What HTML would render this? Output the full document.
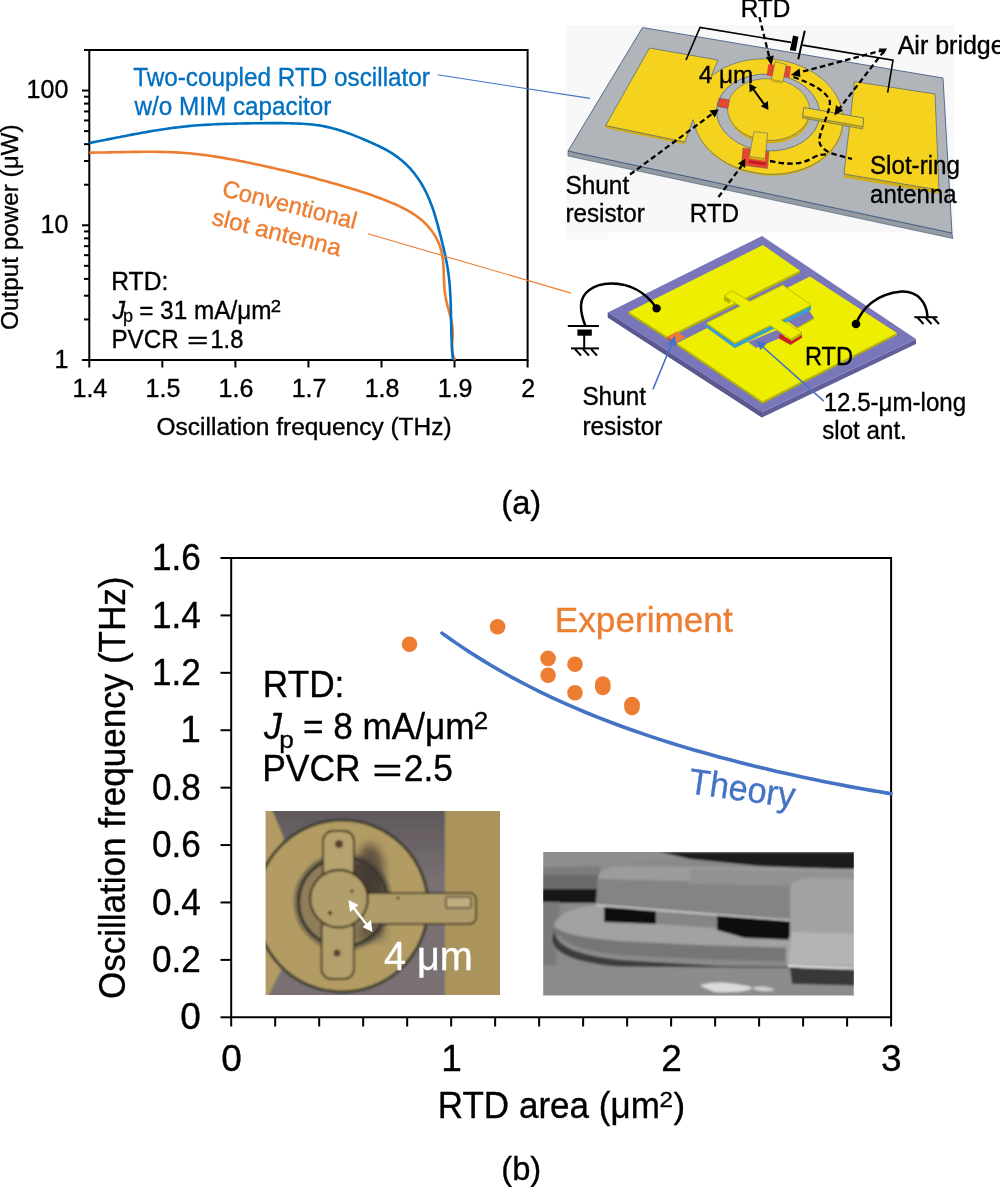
<!DOCTYPE html>
<html><head><meta charset="utf-8"><style>
html,body{margin:0;padding:0;background:#fff;overflow:hidden;}
svg{display:block;}
</style></head><body>
<svg width="1000" height="1187" viewBox="0 0 1000 1187">
<rect width="1000" height="1187" fill="#fff"/>
<rect x="566" y="25" width="388.5" height="207.5" fill="#F8F8F9"/>
<rect x="566" y="232" width="41.5" height="7.5" fill="#F8F8F9"/>
<polygon points="568,151 952,233 953,238.5 568,156" fill="#979BA1" stroke="#34527E" stroke-width="0.6"/>
<polygon points="642.5,27.5 943,78 952,233 568,151" fill="#B1B5B9" stroke="#34527E" stroke-width="0.8"/>
<polygon points="605.6,125.6 685,142 685,144.5 605.6,128" fill="#D2AE12"/>
<polygon points="844,174 939,190 939,193.5 844,177.5" fill="#D2AE12"/>
<polygon points="854.5,81.6 935,94 939,190 844,174" fill="#F5D21E" stroke="#34527E" stroke-width="0.6"/>
<ellipse cx="768.4" cy="118" rx="75.2" ry="57.5" transform="rotate(5.8 768.4 118)" fill="#D2AE12"/>
<ellipse cx="768" cy="116.5" rx="75.2" ry="57.5" transform="rotate(5.8 768 116.5)" fill="#F5D21E" stroke="#34527E" stroke-width="0.5"/>
<polygon points="649.5,48 718,60 711.2,76.2 740,100 700,116 693,119.7 685,142 605.6,125.6" fill="#F5D21E"/>
<polyline points="711.2,76.2 718,60 649.5,48 605.6,125.6 685,142 693,119.7" fill="none" stroke="#34527E" stroke-width="0.6"/>
<ellipse cx="768.1" cy="112.5" rx="51.7" ry="38.4" transform="rotate(3.6 768.1 112.5)" fill="#B1B5B9" stroke="#34527E" stroke-width="0.6"/>
<ellipse cx="769.3" cy="112.3" rx="41.2" ry="30.9" transform="rotate(3.6 769.3 112.3)" fill="#D2AE12"/>
<ellipse cx="768.6" cy="109.5" rx="41.2" ry="30.9" transform="rotate(3.6 768.6 109.5)" fill="#F5D21E" stroke="#34527E" stroke-width="0.5"/>
<polygon points="719.5,98 729.5,100 728,108.5 717.5,106.5" fill="#E8462E" stroke="#34527E" stroke-width="0.4"/>
<polygon points="768.5,64 775,65 773,76.5 766.5,75.5" fill="#E8462E"/>
<polygon points="785,65.4 791,66.6 789.5,78 783.5,77" fill="#E8462E"/>
<polygon points="775.2,61.5 786.3,64.7 783,81.6 771.3,79.7" fill="#F5D21E" stroke="#34527E" stroke-width="0.5"/>
<polygon points="771.3,79.7 783,81.6 782.6,83.6 771,81.8" fill="#D2AE12"/>
<polygon points="803.8,107.6 863.6,118 862.6,129 802.5,118" fill="#D2AE12" stroke="#34527E" stroke-width="0.5"/>
<polygon points="803.8,107.6 863.6,118 863,126.5 802.8,116" fill="#F5D21E" stroke="#34527E" stroke-width="0.5"/>
<polygon points="743,148 769,151.5 767.5,168.5 741.5,165" fill="#E8462E" stroke="#34527E" stroke-width="0.4"/>
<polygon points="749,160 766,162.5 765.5,165.5 748.5,163" fill="#C01E24"/>
<polygon points="754,131.6 767.6,133.2 765.2,158.8 749.2,156.4" fill="#F5D21E" stroke="#34527E" stroke-width="0.5"/>
<polygon points="749.2,156.4 765.2,158.8 765,161 749,158.6" fill="#D2AE12"/>
<polyline points="686,60 700,27.5 791,42.4" fill="none" stroke="#000" stroke-width="1.6"/>
<polyline points="802.4,45.1 893,60.2 887.7,92.7" fill="none" stroke="#000" stroke-width="1.6"/>
<polygon points="793.1,35.5 798.5,36.7 795.8,51.1 789.8,50.2" fill="#000"/>
<line x1="804.8" y1="30.7" x2="798.2" y2="59.2" stroke="#000" stroke-width="2"/>
<path d="M759.4,17 L769.5,58" fill="none" stroke="#000" stroke-width="2.3" stroke-dasharray="5.5,3.2"/>
<polygon points="766,57 773.8,55.5 771.5,65.5" fill="#000"/>
<path d="M884,50 L798,72.8" fill="none" stroke="#000" stroke-width="2.3" stroke-dasharray="5.5,3.2"/>
<polygon points="799.5,68.5 800.5,77 790.8,75.1" fill="#000"/>
<path d="M884,51 L839.5,108.5" fill="none" stroke="#000" stroke-width="2.3" stroke-dasharray="5.5,3.2"/>
<polygon points="836,105 843,110.5 834.4,115.4" fill="#000"/>
<polygon points="887,48.5 878.5,48.6 883.5,54.5" fill="#000"/>
<path d="M630,174.5 L712,114" fill="none" stroke="#000" stroke-width="2.3" stroke-dasharray="5.5,3.2"/>
<polygon points="709.5,110.5 714.8,117.5 718.8,109.2" fill="#000"/>
<path d="M718.5,197 L741.5,166" fill="none" stroke="#000" stroke-width="2.3" stroke-dasharray="5.5,3.2"/>
<polygon points="738,163.5 745.2,168 745.2,158.8" fill="#000"/>
<path d="M793.4,77 C813,84 827,92 829.8,101 C831,110 822,125 819.4,138.8 C818,146 826,152 835,154.4 L852,159" fill="none" stroke="#000" stroke-width="2.3" stroke-dasharray="5.5,3.2"/>
<path d="M770,161 C785,164 800,166 813,157.7 C818,155 822,154.5 826,154.4" fill="none" stroke="#000" stroke-width="2.3" stroke-dasharray="5.5,3.2"/>
<line x1="752" y1="87.5" x2="765.5" y2="106" stroke="#000" stroke-width="2"/>
<polygon points="749.2,83.6 749.7,92.5 756.8,87.4" fill="#000"/>
<polygon points="768.4,110 767.9,101.1 760.8,106.2" fill="#000"/>
<polygon points="607.8,312.4 762,412 916,339 916,344 762,417.5 607.8,317.5" fill="#62609A"/>
<polygon points="762,412 762,417.5 607.8,317.5 607.8,312.4" fill="#5A588E"/>
<polygon points="607.8,312.4 762,236 916,339 762,412" fill="#7977BA"/>
<polygon points="628.6,312 667.2,336.8 800,270.7 800,273 667.2,339 628.6,314.3" fill="#B5B500"/>
<polygon points="628.6,312 763,245 800,270.7 667.2,336.8" fill="#EEEE00"/>
<polygon points="676.8,343.2 762.5,401.5 897,333 897,335.3 762.5,403.8 676.8,345.5" fill="#B5B500"/>
<polygon points="676.8,343.2 810,276.6 897,333 762.5,401.5" fill="#EEEE00"/>
<polygon points="667.2,336.8 676.8,342.4 676.8,345 667.2,339.3" fill="#C85A20"/>
<polygon points="667.2,336.8 676.8,331.6 685.2,337.2 676.8,342.4" fill="#EE7A3A"/>
<polygon points="748,342 777,330 785,336 756,348" fill="#7977BA"/>
<polygon points="786,320 808,309 814,318 797,328" fill="#7977BA"/>
<polyline points="797,328 814,318.5" fill="none" stroke="#B5B500" stroke-width="1.2"/>
<polygon points="779,333.6 791,340 802,333 802,337.8 790.5,345 779,338.5" fill="#CC1F1F"/>
<polygon points="706.6,322.8 734.8,342.5 811,304.8 811,310 734.8,348.3 706.6,327.8" fill="#3A9FD0"/>
<polygon points="706.6,322.8 734.8,342.5 811,304.8 811,306.3 734.8,344.2 706.6,324.3" fill="#B5B500"/>
<polygon points="706.6,322.8 782.8,285 811,304.8 734.8,342.5" fill="#EEEE00"/>
<polygon points="724,295.8 724,300.5 730,304 730,299.3" fill="#B5B500"/>
<polygon points="791,339 802,332.4 802,335 791,341.5" fill="#B5B500"/>
<polygon points="724,295.8 732.4,291 802,332.4 791,339" fill="#EEEE00"/>
<polyline points="740.1,306.2 724,295.8 732.4,291 749.8,301.4" fill="none" stroke="#B5B500" stroke-width="0.9"/>
<polyline points="706.6,322.8 740.1,306.2" fill="none" stroke="#B5B500" stroke-width="0.8"/>
<polyline points="780.7,319.8 802,332.4 791,339 769.7,325.2" fill="none" stroke="#B5B500" stroke-width="0.8"/>
<polyline points="749.8,301.4 782.8,285 811,304.8" fill="none" stroke="#B5B500" stroke-width="0.8"/>
<path d="M656.6,308.4 C645,291 628,283.5 611,283.6 C594,284 581,292 581,306 C581,315 583,320 585.4,326" fill="none" stroke="#000" stroke-width="2.5"/>
<circle cx="656.6" cy="308.4" r="4.2" fill="#000"/>
<line x1="567.8" y1="326" x2="599" y2="326" stroke="#000" stroke-width="2"/>
<rect x="577.4" y="329.5" width="14.4" height="6.2" fill="#000"/>
<line x1="584.2" y1="335" x2="584.2" y2="348.4" stroke="#000" stroke-width="2"/>
<line x1="571" y1="348.4" x2="599" y2="348.4" stroke="#000" stroke-width="2"/>
<line x1="575" y1="349" x2="581" y2="355.6" stroke="#000" stroke-width="2"/>
<line x1="583" y1="349" x2="589" y2="355.6" stroke="#000" stroke-width="2"/>
<line x1="591" y1="349" x2="597" y2="355.6" stroke="#000" stroke-width="2"/>
<path d="M856,324 C862,308 876,294 901.6,291.6 C918,291 927,303 927.5,317" fill="none" stroke="#000" stroke-width="2.5"/>
<circle cx="856" cy="324" r="4.3" fill="#000"/>
<line x1="914.3" y1="317.2" x2="937.4" y2="317.2" stroke="#000" stroke-width="2"/>
<line x1="917.5" y1="317.5" x2="923.5" y2="324" stroke="#000" stroke-width="2"/>
<line x1="925.5" y1="317.5" x2="931.5" y2="324" stroke="#000" stroke-width="2"/>
<line x1="933" y1="317.5" x2="939" y2="324" stroke="#000" stroke-width="2"/>
<line x1="652.9" y1="389.5" x2="672" y2="343" stroke="#4472C4" stroke-width="1.6"/>
<polygon points="675,335.6 667.5,344 676.5,346.5" fill="#4472C4"/>
<line x1="823.8" y1="401.2" x2="762" y2="346" stroke="#4472C4" stroke-width="1.6"/>
<polygon points="756,340.5 760.5,350 767,343.5" fill="#4472C4"/>
<g stroke="#000" stroke-width="2" fill="none">
<path d="M89.3,50.01 H527.6 V360 H89.3 Z"/>
<line x1="82" y1="360.00" x2="89.3" y2="360.00"/>
<line x1="84" y1="319.45" x2="89.3" y2="319.45"/>
<line x1="84" y1="295.72" x2="89.3" y2="295.72"/>
<line x1="84" y1="278.89" x2="89.3" y2="278.89"/>
<line x1="84" y1="265.83" x2="89.3" y2="265.83"/>
<line x1="84" y1="255.17" x2="89.3" y2="255.17"/>
<line x1="84" y1="246.15" x2="89.3" y2="246.15"/>
<line x1="84" y1="238.34" x2="89.3" y2="238.34"/>
<line x1="84" y1="231.44" x2="89.3" y2="231.44"/>
<line x1="82" y1="225.28" x2="89.3" y2="225.28"/>
<line x1="84" y1="184.73" x2="89.3" y2="184.73"/>
<line x1="84" y1="161.00" x2="89.3" y2="161.00"/>
<line x1="84" y1="144.17" x2="89.3" y2="144.17"/>
<line x1="84" y1="131.11" x2="89.3" y2="131.11"/>
<line x1="84" y1="120.45" x2="89.3" y2="120.45"/>
<line x1="84" y1="111.43" x2="89.3" y2="111.43"/>
<line x1="84" y1="103.62" x2="89.3" y2="103.62"/>
<line x1="84" y1="96.72" x2="89.3" y2="96.72"/>
<line x1="82" y1="90.56" x2="89.3" y2="90.56"/>
<line x1="84" y1="50.01" x2="89.3" y2="50.01"/>
<line x1="84" y1="50.01" x2="89.3" y2="50.01"/>
<line x1="89.30" y1="360" x2="89.30" y2="367.5"/>
<line x1="162.35" y1="360" x2="162.35" y2="367.5"/>
<line x1="235.40" y1="360" x2="235.40" y2="367.5"/>
<line x1="308.45" y1="360" x2="308.45" y2="367.5"/>
<line x1="381.50" y1="360" x2="381.50" y2="367.5"/>
<line x1="454.55" y1="360" x2="454.55" y2="367.5"/>
<line x1="527.60" y1="360" x2="527.60" y2="367.5"/>
</g>
<path d="M89.30,152.61 L92.39,152.59 L95.47,152.57 L98.56,152.54 L101.64,152.49 L104.73,152.44 L107.82,152.39 L110.91,152.33 L114.00,152.27 L117.09,152.21 L120.18,152.14 L123.27,152.08 L126.36,152.02 L129.46,151.97 L132.55,151.91 L135.64,151.87 L138.73,151.83 L141.82,151.80 L144.91,151.78 L148.01,151.77 L151.10,151.78 L154.19,151.80 L157.27,151.83 L160.36,151.88 L163.45,151.94 L166.53,152.03 L169.62,152.14 L172.70,152.26 L175.78,152.41 L178.86,152.59 L181.94,152.79 L185.01,153.01 L188.09,153.26 L191.16,153.54 L194.23,153.85 L197.30,154.18 L200.36,154.53 L203.43,154.91 L206.49,155.31 L209.55,155.74 L212.60,156.18 L215.66,156.64 L218.71,157.12 L221.76,157.62 L224.81,158.14 L227.86,158.67 L230.90,159.22 L233.94,159.78 L236.98,160.36 L240.02,160.95 L243.05,161.55 L246.08,162.16 L249.11,162.78 L252.14,163.41 L255.17,164.05 L258.19,164.70 L261.21,165.35 L264.23,166.01 L267.24,166.68 L270.25,167.36 L273.27,168.04 L276.27,168.73 L279.28,169.42 L282.29,170.13 L285.29,170.84 L288.29,171.55 L291.29,172.28 L294.28,173.01 L297.28,173.75 L300.27,174.50 L303.26,175.25 L306.25,176.01 L309.24,176.78 L312.23,177.56 L315.21,178.35 L318.19,179.14 L321.17,179.94 L324.15,180.75 L327.13,181.57 L330.11,182.39 L333.08,183.22 L336.06,184.06 L339.03,184.91 L342.00,185.77 L344.97,186.64 L347.94,187.52 L350.90,188.41 L353.86,189.32 L356.81,190.24 L359.76,191.18 L362.70,192.13 L365.64,193.10 L368.57,194.09 L371.49,195.10 L374.40,196.13 L377.31,197.19 L380.21,198.27 L383.09,199.37 L385.97,200.50 L388.84,201.65 L391.69,202.84 L394.53,204.05 L397.36,205.31 L400.15,206.61 L402.91,207.97 L405.64,209.38 L408.32,210.86 L410.96,212.42 L413.55,214.05 L416.07,215.78 L418.53,217.59 L420.93,219.51 L423.24,221.54 L425.48,223.68 L427.63,225.94 L429.68,228.31 L431.62,230.78 L433.44,233.35 L435.13,236.00 L436.66,238.73 L438.04,241.52 L439.25,244.37 L440.27,247.26 L441.12,250.19 L441.81,253.16 L442.36,256.15 L442.79,259.18 L443.12,262.23 L443.37,265.30 L443.55,268.38 L443.69,271.47 L443.80,274.57 L443.90,277.68 L444.01,280.78 L444.15,283.88 L444.34,286.96 L444.60,290.04 L444.94,293.09 L445.38,296.13 L445.94,299.13 L446.61,302.12 L447.35,305.09 L448.14,308.05 L448.95,311.01 L449.75,313.98 L450.52,316.96 L451.22,319.95 L451.82,322.98 L452.30,326.03 L452.63,329.12 L452.77,332.26 L452.72,335.45 L452.52,338.68 L452.27,341.91 L452.07,345.13 L452.02,348.30 L452.22,351.40 L452.76,354.40 L453.74,357.28 L455.27,360.01" stroke="#ED7D31" stroke-width="2.6" fill="none" stroke-linejoin="round"/>
<path d="M89.30,142.98 L92.59,142.35 L95.88,141.71 L99.16,141.07 L102.45,140.43 L105.74,139.78 L109.03,139.13 L112.32,138.48 L115.62,137.83 L118.91,137.19 L122.21,136.54 L125.50,135.91 L128.80,135.27 L132.10,134.64 L135.40,134.03 L138.71,133.42 L142.01,132.82 L145.32,132.23 L148.63,131.65 L151.94,131.09 L155.25,130.54 L158.56,130.01 L161.88,129.50 L165.20,129.00 L168.52,128.52 L171.84,128.07 L175.16,127.63 L178.49,127.22 L181.82,126.84 L185.15,126.48 L188.49,126.14 L191.83,125.83 L195.17,125.55 L198.51,125.29 L201.85,125.05 L205.20,124.83 L208.54,124.63 L211.89,124.45 L215.24,124.28 L218.60,124.13 L221.95,124.00 L225.30,123.88 L228.66,123.78 L232.01,123.68 L235.37,123.60 L238.73,123.53 L242.08,123.46 L245.44,123.40 L248.80,123.35 L252.15,123.30 L255.51,123.26 L258.87,123.22 L262.22,123.18 L265.58,123.15 L268.93,123.12 L272.29,123.11 L275.64,123.11 L279.00,123.12 L282.35,123.14 L285.70,123.19 L289.05,123.25 L292.41,123.34 L295.76,123.45 L299.11,123.59 L302.46,123.76 L305.81,123.96 L309.15,124.22 L312.48,124.53 L315.81,124.93 L319.12,125.40 L322.41,125.97 L325.70,126.63 L328.96,127.36 L332.22,128.18 L335.45,129.06 L338.68,130.02 L341.89,131.03 L345.08,132.11 L348.26,133.23 L351.42,134.40 L354.57,135.62 L357.70,136.87 L360.81,138.15 L363.91,139.46 L367.00,140.79 L370.07,142.13 L373.12,143.49 L376.16,144.87 L379.17,146.28 L382.16,147.73 L385.11,149.26 L388.03,150.87 L390.90,152.59 L393.73,154.41 L396.49,156.35 L399.20,158.39 L401.83,160.53 L404.38,162.76 L406.85,165.09 L409.22,167.49 L411.48,169.98 L413.64,172.55 L415.70,175.19 L417.66,177.89 L419.51,180.66 L421.28,183.49 L422.96,186.37 L424.55,189.30 L426.05,192.28 L427.48,195.31 L428.83,198.37 L430.11,201.47 L431.31,204.59 L432.46,207.75 L433.54,210.92 L434.57,214.12 L435.56,217.34 L436.50,220.57 L437.41,223.82 L438.29,227.07 L439.14,230.33 L439.98,233.59 L440.80,236.86 L441.62,240.12 L442.43,243.38 L443.22,246.64 L443.98,249.90 L444.73,253.16 L445.44,256.43 L446.11,259.70 L446.75,262.98 L447.33,266.26 L447.87,269.56 L448.35,272.86 L448.77,276.18 L449.15,279.50 L449.48,282.83 L449.76,286.17 L450.01,289.51 L450.22,292.86 L450.40,296.22 L450.55,299.58 L450.68,302.95 L450.79,306.31 L450.88,309.68 L450.96,313.05 L451.03,316.43 L451.10,319.80 L451.17,323.17 L451.24,326.54 L451.31,329.91 L451.40,333.27 L451.50,336.63 L451.63,339.99 L451.77,343.34 L451.94,346.68 L452.14,350.02 L452.37,353.35 L452.64,356.67 L452.95,359.99" stroke="#0070C0" stroke-width="2.6" fill="none" stroke-linejoin="round"/>
<line x1="437.6" y1="74.8" x2="590" y2="98.4" stroke="#4472C4" stroke-width="1.1"/>
<line x1="368" y1="233.8" x2="571" y2="293.1" stroke="#ED7D31" stroke-width="1.1"/>
<g font-family="Liberation Sans, Arial, Helvetica, sans-serif">
<text x="68.3" y="98.3" font-size="25" fill="#000" text-anchor="end"  stroke="#000" stroke-width="0.35">100</text>
<text x="68.3" y="233.0" font-size="25" fill="#000" text-anchor="end"  stroke="#000" stroke-width="0.35">10</text>
<text x="68.3" y="367.8" font-size="25" fill="#000" text-anchor="end"  stroke="#000" stroke-width="0.35">1</text>
<text x="89.9" y="396.6" font-size="25" fill="#000" text-anchor="middle"  stroke="#000" stroke-width="0.35">1.4</text>
<text x="162.95" y="396.6" font-size="25" fill="#000" text-anchor="middle"  stroke="#000" stroke-width="0.35">1.5</text>
<text x="236.0" y="396.6" font-size="25" fill="#000" text-anchor="middle"  stroke="#000" stroke-width="0.35">1.6</text>
<text x="309.05" y="396.6" font-size="25" fill="#000" text-anchor="middle"  stroke="#000" stroke-width="0.35">1.7</text>
<text x="382.1" y="396.6" font-size="25" fill="#000" text-anchor="middle"  stroke="#000" stroke-width="0.35">1.8</text>
<text x="455.15" y="396.6" font-size="25" fill="#000" text-anchor="middle"  stroke="#000" stroke-width="0.35">1.9</text>
<text x="528.2" y="396.6" font-size="25" fill="#000" text-anchor="middle"  stroke="#000" stroke-width="0.35">2</text>
<text x="156.60" y="435.00" font-size="24.80" fill="#000" textLength="294.97" lengthAdjust="spacingAndGlyphs"  stroke="#000" stroke-width="0.35">Oscillation frequency (THz)</text>
<text transform="translate(17.9,329.89) rotate(-90)" x="0" y="0" font-size="24.8" textLength="205.51" lengthAdjust="spacingAndGlyphs" stroke="#000" stroke-width="0.35">Output power (μW)</text>
<text x="133.19" y="85.50" font-size="26.00" fill="#0070C0" textLength="296.76" lengthAdjust="spacingAndGlyphs"  stroke="#0070C0" stroke-width="0.35">Two-coupled RTD oscillator</text>
<text x="134.40" y="114.60" font-size="26.00" fill="#0070C0" textLength="197.04" lengthAdjust="spacingAndGlyphs"  stroke="#0070C0" stroke-width="0.35">w/o MIM capacitor</text>
<g transform="translate(221.0,195.8) rotate(14)"><text x="0" y="0" font-size="23.8" fill="#ED7D31" textLength="137.8" lengthAdjust="spacingAndGlyphs" stroke="#ED7D31" stroke-width="0.35">Conventional</text><text x="-3" y="30" font-size="23.8" fill="#ED7D31" textLength="132.1" lengthAdjust="spacingAndGlyphs" stroke="#ED7D31" stroke-width="0.35">slot antenna</text></g>
<text x="111.28" y="289.70" font-size="25.20" fill="#000" textLength="57.04" lengthAdjust="spacingAndGlyphs"  stroke="#000" stroke-width="0.35">RTD:</text>
<text x="112.5" y="318.9" font-size="25.2" font-style="italic" stroke="#000" stroke-width="0.35">J</text>
<text x="123.03" y="322.30" font-size="18.50" fill="#000" textLength="10.01" lengthAdjust="spacingAndGlyphs"  stroke="#000" stroke-width="0.35">p</text>
<text x="139.18" y="318.80" font-size="25.20" fill="#000" textLength="132.22" lengthAdjust="spacingAndGlyphs"  stroke="#000" stroke-width="0.35">= 31 mA/μm</text>
<text x="270.73" y="311.80" font-size="17.00" fill="#000" textLength="10.27" lengthAdjust="spacingAndGlyphs"  stroke="#000" stroke-width="0.35">2</text>
<text x="111.46" y="348.20" font-size="25.00" fill="#000" textLength="67.31" lengthAdjust="spacingAndGlyphs"  stroke="#000" stroke-width="0.35">PVCR</text>
<text x="185.45" y="349.80" font-size="24.50" fill="#000" textLength="24.45" lengthAdjust="spacingAndGlyphs" font-family="Liberation Sans, Noto Sans CJK JP, sans-serif"  stroke="#000" stroke-width="0.35">＝</text>
<text x="210.42" y="348.10" font-size="25.00" fill="#000" textLength="32.95" lengthAdjust="spacingAndGlyphs"  stroke="#000" stroke-width="0.35">1.8</text>
<text x="740.65" y="17.10" font-size="25.00" fill="#000" textLength="49.59" lengthAdjust="spacingAndGlyphs"  stroke="#000" stroke-width="0.35">RTD</text>
<text x="897.7" y="53.5" font-size="25" stroke="#000" stroke-width="0.35">Air bridge</text>
<text x="698.64" y="82.80" font-size="24.40" fill="#000" textLength="54.52" lengthAdjust="spacingAndGlyphs"  stroke="#000" stroke-width="0.35">4 μm</text>
<text x="565.40" y="193.80" font-size="25.00" fill="#000" textLength="63.80" lengthAdjust="spacingAndGlyphs"  stroke="#000" stroke-width="0.35">Shunt</text>
<text x="565.42" y="222.30" font-size="25.00" fill="#000" textLength="79.52" lengthAdjust="spacingAndGlyphs"  stroke="#000" stroke-width="0.35">resistor</text>
<text x="689.66" y="222.00" font-size="25.00" fill="#000" textLength="49.49" lengthAdjust="spacingAndGlyphs"  stroke="#000" stroke-width="0.35">RTD</text>
<text x="869.91" y="174.00" font-size="25.00" fill="#000" textLength="90.13" lengthAdjust="spacingAndGlyphs"  stroke="#000" stroke-width="0.35">Slot-ring</text>
<text x="870.12" y="202.80" font-size="25.00" fill="#000" textLength="86.37" lengthAdjust="spacingAndGlyphs"  stroke="#000" stroke-width="0.35">antenna</text>
<text x="804.91" y="365.20" font-size="25.00" fill="#000" textLength="48.10" lengthAdjust="spacingAndGlyphs"  stroke="#000" stroke-width="0.35">RTD</text>
<text x="582.41" y="405.40" font-size="25.00" fill="#000" textLength="63.55" lengthAdjust="spacingAndGlyphs"  stroke="#000" stroke-width="0.35">Shunt</text>
<text x="582.42" y="434.70" font-size="25.00" fill="#000" textLength="79.93" lengthAdjust="spacingAndGlyphs"  stroke="#000" stroke-width="0.35">resistor</text>
<text x="823.69" y="410.60" font-size="25.00" fill="#000" textLength="142.40" lengthAdjust="spacingAndGlyphs"  stroke="#000" stroke-width="0.35">12.5-μm-long</text>
<text x="822.28" y="439.40" font-size="25.00" fill="#000" textLength="84.54" lengthAdjust="spacingAndGlyphs"  stroke="#000" stroke-width="0.35">slot ant.</text>
<text x="501.24" y="513.70" font-size="34.00" fill="#000" textLength="40.00" lengthAdjust="spacingAndGlyphs"  stroke="#000" stroke-width="0.35">(a)</text>
</g>
<defs>
<clipPath id="cp1"><rect x="265.6" y="811" width="234.4" height="184"/></clipPath>
<clipPath id="cp2"><rect x="543.2" y="852" width="310.6" height="143.5"/></clipPath>
<filter id="bl1" x="-5%" y="-5%" width="110%" height="110%"><feGaussianBlur stdDeviation="1.3"/></filter>
<filter id="bl2" x="-5%" y="-5%" width="110%" height="110%"><feGaussianBlur stdDeviation="0.9"/></filter>
<filter id="bl3" x="-20%" y="-20%" width="140%" height="140%"><feGaussianBlur stdDeviation="4"/></filter>
<radialGradient id="g1disc" cx="0.45" cy="0.45" r="0.6"><stop offset="0" stop-color="#B49E68"/><stop offset="1" stop-color="#A89360"/></radialGradient>
<linearGradient id="g1gray" x1="0" y1="0" x2="1" y2="0"><stop offset="0" stop-color="#847B7E"/><stop offset="1" stop-color="#7C7378"/></linearGradient>
<pattern id="stri" x="0" y="0" width="3" height="40" patternUnits="userSpaceOnUse"><rect width="3" height="40" fill="none"/><rect x="0" width="1" height="40" fill="#000" opacity="0.12"/><rect x="2" width="0.6" height="40" fill="#fff" opacity="0.10"/></pattern>
</defs>
<g clip-path="url(#cp1)"><g filter="url(#bl1)">
<linearGradient id="gpg" x1="0" y1="811" x2="0" y2="880" gradientUnits="userSpaceOnUse"><stop offset="0" stop-color="#5E585C"/><stop offset="1" stop-color="#787073"/></linearGradient>
<rect x="255" y="800" width="255" height="205" fill="url(#gpg)"/>
<polygon points="255,800 268,800 283.3,836.8 283.3,965.8 266,1000 255,1000" fill="#B29C64"/>
<rect x="445" y="800" width="70" height="205" fill="#AA945C"/>
<circle cx="342" cy="906" r="86" fill="#B29C64" stroke="#3C3C2E" stroke-width="3"/>
<circle cx="343" cy="902" r="47" fill="none" stroke="#6E6450" stroke-width="5" opacity="0.7"/>
<circle cx="343" cy="902" r="44.5" fill="#8E7D58" stroke="#30362A" stroke-width="3"/>
<path d="M356,862 A40,40 0 0 1 385,905 L368,905 A28,28 0 0 0 350,875 Z" fill="#4A3F34" opacity="0.8"/>
<ellipse cx="370" cy="872" rx="14" ry="28" fill="#3E3630" opacity="0.7" filter="url(#bl3)"/>
<ellipse cx="372" cy="932" rx="14" ry="10" fill="#3E3630" opacity="0.5" filter="url(#bl3)"/>
<rect x="323" y="831" width="31" height="65" rx="10" fill="#B6A26E" stroke="#3C3424" stroke-width="1.8"/>
<rect x="321.5" y="918" width="32.5" height="61" rx="10" fill="#B4A06C" stroke="#3C3424" stroke-width="1.8"/>
<circle cx="339" cy="844" r="4" fill="#5A4030"/><circle cx="337" cy="953" r="3.5" fill="#5A4030"/>
<rect x="362" y="893.2" width="114" height="30.6" rx="6" fill="#B09C6A" stroke="#3C3424" stroke-width="1.8"/>
<rect x="446" y="896.9" width="25" height="11" rx="2" fill="#C0AE80" stroke="#3C3424" stroke-width="1.3"/>
<circle cx="339" cy="898.8" r="28.8" fill="#B29E6A" stroke="#2A2418" stroke-width="1.8"/>
<circle cx="330" cy="913" r="2" fill="#3A2A20"/><circle cx="352" cy="891" r="1.6" fill="#3A2A20"/><circle cx="398" cy="898" r="1.5" fill="#3A2A20"/>
</g></g>
<line x1="353" y1="907" x2="367" y2="925" stroke="#fff" stroke-width="2.5"/>
<polygon points="348.5,900 350,912 358.5,905" fill="#fff"/>
<polygon points="372.5,932 371,920 362.5,927" fill="#fff"/>
<g clip-path="url(#cp2)"><g filter="url(#bl2)">
<rect x="535" y="845" width="330" height="160" fill="#8A8A8A"/>
<polygon points="535,845 865,845 865,860 690,857 600,866 535,868" fill="#8E8E8E"/>
<polygon points="660,852 865,852 865,870 760,866 690,859" fill="#1C1C1C"/>
<polygon points="535,868 600,866 600,876 535,876" fill="#7C7C7C"/>
<polygon points="535,875 600,875 598,890 535,890" fill="#6A6A6A"/>
<polygon points="535,889 600,889 598,903 535,903" fill="#141414"/>
<polygon points="535,902 560,902 556,965 535,965" fill="#7A7A7A"/>
<path d="M554,930 C556,948 580,955 620,960 L720,966 L800,967 L800,975 L720,972 L620,967 C575,962 556,955 552,940 Z" fill="#3E3E3E"/>
<path d="M554,926 C556,940 575,950 620,955 L700,959 L800,962 L800,948 L700,945 L620,941 C585,938 562,934 554,926 Z" fill="#787878"/>
<path d="M554,926 C556,940 575,950 620,955 L700,959 L800,962 L800,948 L700,945 L620,941 C585,938 562,934 554,926 Z" fill="url(#stri)"/>
<path d="M554,926 C556,913 578,906 600,905 L700,912 L800,920 L800,948 L700,945 L620,941 C585,938 562,934 554,926 Z" fill="#A2A2A2"/>
<polygon points="604,907 656,910 656,924 604,922" fill="#111111"/>
<polygon points="656,912 717,915 717,928 656,924" fill="#858585"/>
<polygon points="717,914 796,920 796,940 745,938 717,930" fill="#0E0E0E"/>
<path d="M598,880 C598,870 606,866 625,866 L865,869 L865,884 L640,880 Z" fill="#9C9C9C"/>
<polygon points="597,879 640,880 796,888 796,921 640,910 596,905" fill="#868686"/>
<polygon points="597,879 640,880 796,888 796,921 640,910 596,905" fill="url(#stri)"/>
<line x1="596" y1="905" x2="796" y2="921" stroke="#D4D4D4" stroke-width="1.5"/>
<polygon points="690,869 865,872 865,886 690,884" fill="#929292"/>
<path d="M790,888 C792,880 800,878 815,878 L865,879 L865,968 L788,966 C784,960 786,945 790,935 Z" fill="#A2A2A2"/>
<polygon points="792,932 865,934 865,966 788,964" fill="#B4B4B4"/>
<line x1="788" y1="966" x2="865" y2="969" stroke="#E8E8E8" stroke-width="1.8"/>
<polygon points="788,968 865,970 865,986 792,984" fill="#383838"/>
<polygon points="535,966 790,968 792,984 865,986 865,1000 535,1000" fill="#8C8C8C"/>
<path d="M700,986 C712,980 730,983 748,986 C760,990 738,993 715,992 Z" fill="#DADADA"/>
<path d="M752,988 C760,985 770,987 775,990 C768,992 758,992 752,988 Z" fill="#CFCFCF"/>
</g></g>
<g stroke="#000" stroke-width="2" fill="none">
<path d="M231.2,558 H891.1 V1017.3 H231.2 Z"/>
<line x1="220.5" y1="1017.30" x2="231.2" y2="1017.30"/>
<line x1="220.5" y1="959.89" x2="231.2" y2="959.89"/>
<line x1="220.5" y1="902.47" x2="231.2" y2="902.47"/>
<line x1="220.5" y1="845.06" x2="231.2" y2="845.06"/>
<line x1="220.5" y1="787.65" x2="231.2" y2="787.65"/>
<line x1="220.5" y1="730.24" x2="231.2" y2="730.24"/>
<line x1="220.5" y1="672.82" x2="231.2" y2="672.82"/>
<line x1="220.5" y1="615.41" x2="231.2" y2="615.41"/>
<line x1="220.5" y1="558.00" x2="231.2" y2="558.00"/>
<line x1="231.20" y1="1017.3" x2="231.20" y2="1026.5"/>
<line x1="275.19" y1="1017.3" x2="275.19" y2="1026.5"/>
<line x1="319.19" y1="1017.3" x2="319.19" y2="1026.5"/>
<line x1="363.18" y1="1017.3" x2="363.18" y2="1026.5"/>
<line x1="407.17" y1="1017.3" x2="407.17" y2="1026.5"/>
<line x1="451.17" y1="1017.3" x2="451.17" y2="1026.5"/>
<line x1="495.16" y1="1017.3" x2="495.16" y2="1026.5"/>
<line x1="539.15" y1="1017.3" x2="539.15" y2="1026.5"/>
<line x1="583.15" y1="1017.3" x2="583.15" y2="1026.5"/>
<line x1="627.14" y1="1017.3" x2="627.14" y2="1026.5"/>
<line x1="671.13" y1="1017.3" x2="671.13" y2="1026.5"/>
<line x1="715.13" y1="1017.3" x2="715.13" y2="1026.5"/>
<line x1="759.12" y1="1017.3" x2="759.12" y2="1026.5"/>
<line x1="803.11" y1="1017.3" x2="803.11" y2="1026.5"/>
<line x1="847.11" y1="1017.3" x2="847.11" y2="1026.5"/>
<line x1="891.10" y1="1017.3" x2="891.10" y2="1026.5"/>
</g>
<path d="M442.00,633.14 C444.00,634.55 450.00,638.86 454.00,641.62 C458.00,644.38 462.00,647.07 466.00,649.70 C470.00,652.33 474.00,654.89 478.00,657.39 C482.00,659.90 486.00,662.34 490.00,664.72 C494.00,667.11 498.00,669.44 502.00,671.71 C506.00,673.99 510.00,676.21 514.00,678.38 C518.00,680.55 522.00,682.66 526.00,684.73 C530.00,686.80 534.00,688.82 538.00,690.80 C542.00,692.78 546.00,694.71 550.00,696.60 C554.00,698.48 558.00,700.33 562.00,702.13 C566.00,703.94 570.00,705.70 574.00,707.43 C578.00,709.16 582.00,710.84 586.00,712.50 C590.00,714.15 594.00,715.77 598.00,717.35 C602.00,718.94 606.00,720.49 610.00,722.01 C614.00,723.53 618.00,725.01 622.00,726.47 C626.00,727.93 630.00,729.36 634.00,730.76 C638.00,732.16 642.00,733.53 646.00,734.88 C650.00,736.23 654.00,737.55 658.00,738.85 C662.00,740.15 666.00,741.42 670.00,742.67 C674.00,743.92 678.00,745.14 682.00,746.35 C686.00,747.55 690.00,748.74 694.00,749.90 C698.00,751.06 702.00,752.20 706.00,753.33 C710.00,754.45 714.00,755.56 718.00,756.64 C722.00,757.73 726.00,758.79 730.00,759.84 C734.00,760.89 738.00,761.93 742.00,762.94 C746.00,763.96 750.00,764.96 754.00,765.94 C758.00,766.92 762.00,767.89 766.00,768.84 C770.00,769.79 774.00,770.73 778.00,771.65 C782.00,772.57 786.00,773.47 790.00,774.36 C794.00,775.25 798.00,776.13 802.00,776.99 C806.00,777.85 810.00,778.70 814.00,779.53 C818.00,780.36 822.00,781.18 826.00,781.98 C830.00,782.78 834.00,783.57 838.00,784.34 C842.00,785.11 846.00,785.87 850.00,786.61 C854.00,787.35 858.00,788.08 862.00,788.79 C866.00,789.50 870.00,790.19 874.00,790.87 C878.00,791.55 883.15,792.39 886.00,792.86 C888.85,793.32 890.25,793.54 891.10,793.67" stroke="#4472C4" stroke-width="3.6" fill="none" stroke-linecap="round"/>
<circle cx="409.5" cy="644.2" r="7.8" fill="#ED7D31"/>
<circle cx="497.6" cy="626.8" r="7.8" fill="#ED7D31"/>
<circle cx="548.1" cy="658.4" r="7.8" fill="#ED7D31"/>
<circle cx="548.1" cy="675.2" r="7.8" fill="#ED7D31"/>
<circle cx="575" cy="664.2" r="7.8" fill="#ED7D31"/>
<circle cx="575" cy="692.7" r="7.8" fill="#ED7D31"/>
<circle cx="602.8" cy="684" r="7.8" fill="#ED7D31"/>
<circle cx="602.8" cy="687.5" r="7.8" fill="#ED7D31"/>
<circle cx="632" cy="704.5" r="7.8" fill="#ED7D31"/>
<circle cx="632" cy="707.5" r="7.8" fill="#ED7D31"/>
<g font-family="Liberation Sans, Arial, Helvetica, sans-serif">
<text x="200.8" y="1029.4" font-size="37" fill="#000" text-anchor="end"  stroke="#000" stroke-width="0.35">0</text>
<text x="200.8" y="971.99" font-size="37" fill="#000" text-anchor="end" textLength="48.86" lengthAdjust="spacingAndGlyphs" stroke="#000" stroke-width="0.35">0.2</text>
<text x="200.8" y="914.57" font-size="37" fill="#000" text-anchor="end" textLength="48.86" lengthAdjust="spacingAndGlyphs" stroke="#000" stroke-width="0.35">0.4</text>
<text x="200.8" y="857.16" font-size="37" fill="#000" text-anchor="end" textLength="48.86" lengthAdjust="spacingAndGlyphs" stroke="#000" stroke-width="0.35">0.6</text>
<text x="200.8" y="799.75" font-size="37" fill="#000" text-anchor="end" textLength="48.86" lengthAdjust="spacingAndGlyphs" stroke="#000" stroke-width="0.35">0.8</text>
<text x="200.8" y="742.34" font-size="37" fill="#000" text-anchor="end"  stroke="#000" stroke-width="0.35">1</text>
<text x="200.8" y="684.92" font-size="37" fill="#000" text-anchor="end" textLength="48.86" lengthAdjust="spacingAndGlyphs" stroke="#000" stroke-width="0.35">1.2</text>
<text x="200.8" y="627.51" font-size="37" fill="#000" text-anchor="end" textLength="48.86" lengthAdjust="spacingAndGlyphs" stroke="#000" stroke-width="0.35">1.4</text>
<text x="200.8" y="570.1" font-size="37" fill="#000" text-anchor="end" textLength="48.86" lengthAdjust="spacingAndGlyphs" stroke="#000" stroke-width="0.35">1.6</text>
<text x="231.5" y="1071.3" font-size="37" fill="#000" text-anchor="middle"  stroke="#000" stroke-width="0.35">0</text>
<text x="451.47" y="1071.3" font-size="37" fill="#000" text-anchor="middle"  stroke="#000" stroke-width="0.35">1</text>
<text x="671.43" y="1071.3" font-size="37" fill="#000" text-anchor="middle"  stroke="#000" stroke-width="0.35">2</text>
<text x="891.4" y="1071.3" font-size="37" fill="#000" text-anchor="middle"  stroke="#000" stroke-width="0.35">3</text>
<text x="437.80" y="1117.60" font-size="36.20" fill="#000" textLength="222.03" lengthAdjust="spacingAndGlyphs"  stroke="#000" stroke-width="0.35">RTD area (μm</text>
<text x="659.59" y="1107.10" font-size="21.30" fill="#000" textLength="13.45" lengthAdjust="spacingAndGlyphs"  stroke="#000" stroke-width="0.35">2</text>
<text x="673.45" y="1117.60" font-size="35.00" fill="#000" textLength="11.66" lengthAdjust="spacingAndGlyphs"  stroke="#000" stroke-width="0.35">)</text>
<text transform="translate(125.3,999.08) rotate(-90)" x="0" y="0" font-size="36.2" textLength="422.57" lengthAdjust="spacingAndGlyphs" stroke="#000" stroke-width="0.35">Oscillation frequency (THz)</text>
<text x="554.79" y="632.30" font-size="35.80" fill="#ED7D31" textLength="177.88" lengthAdjust="spacingAndGlyphs"  stroke="#ED7D31" stroke-width="0.35">Experiment</text>
<g transform="translate(687.6,793.1) rotate(8)"><text x="0" y="0" font-size="36" fill="#4472C4" textLength="106.9" lengthAdjust="spacingAndGlyphs" stroke="#4472C4" stroke-width="0.35">Theory</text></g>
<text x="262.83" y="696.95" font-size="36.50" fill="#000" textLength="81.59" lengthAdjust="spacingAndGlyphs"  stroke="#000" stroke-width="0.35">RTD:</text>
<text x="264.00" y="738.90" font-size="36.50" fill="#000" textLength="17.82" lengthAdjust="spacingAndGlyphs" font-style="italic" stroke="#000" stroke-width="0.35">J</text>
<text x="279.30" y="747.60" font-size="23.50" fill="#000" textLength="14.58" lengthAdjust="spacingAndGlyphs"  stroke="#000" stroke-width="0.35">p</text>
<text x="303.04" y="739.30" font-size="36.50" fill="#000" textLength="171.54" lengthAdjust="spacingAndGlyphs"  stroke="#000" stroke-width="0.35">= 8 mA/μm</text>
<text x="473.70" y="728.80" font-size="24.00" fill="#000" textLength="14.42" lengthAdjust="spacingAndGlyphs"  stroke="#000" stroke-width="0.35">2</text>
<text x="262.16" y="781.40" font-size="36.50" fill="#000" textLength="98.55" lengthAdjust="spacingAndGlyphs"  stroke="#000" stroke-width="0.35">PVCR</text>
<text x="369.90" y="783.50" font-size="35.00" fill="#000" textLength="34.80" lengthAdjust="spacingAndGlyphs" font-family="Liberation Sans, Noto Sans CJK JP, sans-serif"  stroke="#000" stroke-width="0.35">＝</text>
<text x="403.83" y="781.40" font-size="36.50" fill="#000" textLength="49.19" lengthAdjust="spacingAndGlyphs"  stroke="#000" stroke-width="0.35">2.5</text>
<text x="383.91" y="969.60" font-size="40.60" fill="#fff" textLength="89.00" lengthAdjust="spacingAndGlyphs"  stroke="#fff" stroke-width="0.35">4 μm</text>
<text x="501.24" y="1179.60" font-size="34.00" fill="#000" textLength="40.00" lengthAdjust="spacingAndGlyphs"  stroke="#000" stroke-width="0.35">(b)</text>
</g>
</svg></body></html>
